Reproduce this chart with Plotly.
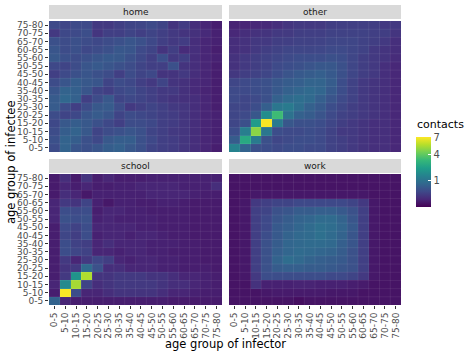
import math
import plotly.graph_objects as go
from plotly.subplots import make_subplots

age_groups = ["0-5", "5-10", "10-15", "15-20", "20-25", "25-30", "30-35", "35-40",
              "40-45", "45-50", "50-55", "55-60", "60-65", "65-70", "70-75", "75-80"]
# rows listed from the top row (infectee 75-80) down to the bottom row (infectee 0-5)
infectee_top_down = list(reversed(age_groups))
settings = ["home", "other", "school", "work"]

home = [
    [0.36, 0.31, 0.36, 0.36, 0.20, 0.20, 0.25, 0.30, 0.32, 0.36, 0.30, 0.16, 0.23, 0.12, 0.08, 0.05],
    [0.20, 0.34, 0.36, 0.41, 0.17, 0.25, 0.25, 0.30, 0.25, 0.30, 0.25, 0.20, 0.16, 0.14, 0.10, 0.06],
    [0.43, 0.38, 0.43, 0.38, 0.34, 0.38, 0.44, 0.50, 0.43, 0.34, 0.25, 0.20, 0.23, 0.12, 0.08, 0.06],
    [0.50, 0.38, 0.43, 0.34, 0.38, 0.44, 0.52, 0.50, 0.36, 0.30, 0.16, 0.24, 0.11, 0.13, 0.08, 0.05],
    [0.54, 0.43, 0.38, 0.44, 0.50, 0.56, 0.54, 0.43, 0.34, 0.25, 0.41, 0.20, 0.24, 0.12, 0.08, 0.06],
    [0.34, 0.30, 0.38, 0.50, 0.56, 0.50, 0.43, 0.38, 0.30, 0.25, 0.25, 0.44, 0.16, 0.12, 0.08, 0.05],
    [0.25, 0.36, 0.44, 0.50, 0.43, 0.38, 0.25, 0.38, 0.30, 0.34, 0.16, 0.16, 0.20, 0.12, 0.08, 0.05],
    [0.38, 0.50, 0.62, 0.54, 0.50, 0.30, 0.38, 0.34, 0.25, 0.20, 0.30, 0.16, 0.14, 0.10, 0.08, 0.05],
    [0.50, 0.70, 0.66, 0.50, 0.30, 0.25, 0.34, 0.38, 0.30, 0.25, 0.20, 0.20, 0.14, 0.10, 0.07, 0.05],
    [0.58, 0.78, 0.67, 0.25, 0.38, 0.54, 0.30, 0.34, 0.30, 0.25, 0.20, 0.16, 0.14, 0.12, 0.08, 0.05],
    [0.58, 0.38, 0.25, 0.38, 0.54, 0.58, 0.38, 0.20, 0.25, 0.30, 0.25, 0.20, 0.18, 0.12, 0.08, 0.05],
    [0.38, 0.30, 0.34, 0.50, 0.58, 0.50, 0.30, 0.38, 0.34, 0.30, 0.25, 0.23, 0.18, 0.12, 0.08, 0.06],
    [0.34, 0.54, 0.62, 0.54, 0.43, 0.34, 0.25, 0.38, 0.38, 0.34, 0.25, 0.23, 0.18, 0.12, 0.08, 0.06],
    [0.38, 0.62, 0.70, 0.54, 0.30, 0.38, 0.44, 0.50, 0.43, 0.30, 0.25, 0.20, 0.18, 0.12, 0.08, 0.06],
    [0.43, 0.70, 0.62, 0.43, 0.34, 0.54, 0.62, 0.62, 0.43, 0.34, 0.25, 0.23, 0.18, 0.12, 0.08, 0.06],
    [0.38, 0.70, 0.50, 0.43, 0.50, 0.62, 0.67, 0.54, 0.43, 0.30, 0.25, 0.23, 0.18, 0.12, 0.08, 0.05],
]

other = [
    [0.07, 0.08, 0.09, 0.10, 0.13, 0.17, 0.20, 0.20, 0.21, 0.24, 0.25, 0.25, 0.25, 0.24, 0.20, 0.20],
    [0.09, 0.12, 0.15, 0.16, 0.20, 0.21, 0.24, 0.25, 0.25, 0.28, 0.28, 0.28, 0.28, 0.25, 0.24, 0.17],
    [0.12, 0.15, 0.19, 0.20, 0.24, 0.25, 0.28, 0.28, 0.29, 0.32, 0.32, 0.32, 0.28, 0.24, 0.20, 0.13],
    [0.12, 0.15, 0.20, 0.24, 0.28, 0.32, 0.32, 0.32, 0.33, 0.36, 0.36, 0.32, 0.28, 0.20, 0.16, 0.12],
    [0.15, 0.20, 0.24, 0.28, 0.32, 0.36, 0.40, 0.40, 0.40, 0.44, 0.40, 0.32, 0.24, 0.20, 0.16, 0.11],
    [0.15, 0.20, 0.24, 0.28, 0.36, 0.40, 0.44, 0.48, 0.52, 0.52, 0.44, 0.32, 0.24, 0.20, 0.13, 0.09],
    [0.19, 0.24, 0.28, 0.32, 0.40, 0.48, 0.56, 0.60, 0.64, 0.56, 0.44, 0.32, 0.24, 0.20, 0.13, 0.09],
    [0.32, 0.36, 0.40, 0.44, 0.52, 0.60, 0.64, 0.72, 0.72, 0.60, 0.40, 0.28, 0.20, 0.16, 0.13, 0.09],
    [0.36, 0.36, 0.40, 0.44, 0.56, 0.68, 0.76, 0.84, 0.76, 0.56, 0.40, 0.28, 0.20, 0.16, 0.13, 0.09],
    [0.36, 0.32, 0.36, 0.44, 0.68, 0.84, 0.92, 0.84, 0.64, 0.48, 0.36, 0.28, 0.20, 0.16, 0.13, 0.09],
    [0.32, 0.32, 0.40, 0.64, 1.10, 1.20, 0.92, 0.68, 0.56, 0.40, 0.32, 0.24, 0.20, 0.16, 0.13, 0.09],
    [0.32, 0.36, 0.52, 1.70, 3.30, 1.00, 0.68, 0.60, 0.48, 0.36, 0.28, 0.24, 0.20, 0.16, 0.13, 0.09],
    [0.32, 0.44, 2.10, 7.00, 1.20, 0.52, 0.44, 0.44, 0.40, 0.32, 0.24, 0.20, 0.16, 0.13, 0.13, 0.09],
    [0.40, 1.30, 4.80, 1.10, 0.40, 0.36, 0.36, 0.40, 0.36, 0.28, 0.20, 0.20, 0.16, 0.13, 0.13, 0.09],
    [0.60, 2.60, 1.20, 0.44, 0.32, 0.36, 0.40, 0.40, 0.36, 0.28, 0.24, 0.20, 0.16, 0.13, 0.13, 0.09],
    [1.40, 0.70, 0.44, 0.40, 0.36, 0.40, 0.40, 0.36, 0.36, 0.28, 0.24, 0.20, 0.16, 0.13, 0.13, 0.09],
]

school = [
    [0.04, 0.12, 0.04, 0.16, 0.05, 0.08, 0.05, 0.05, 0.05, 0.06, 0.06, 0.06, 0.06, 0.06, 0.06, 0.06],
    [0.04, 0.08, 0.05, 0.08, 0.05, 0.05, 0.06, 0.06, 0.08, 0.08, 0.08, 0.08, 0.06, 0.06, 0.06, 0.12],
    [0.04, 0.12, 0.08, 0.03, 0.06, 0.06, 0.06, 0.06, 0.06, 0.08, 0.08, 0.08, 0.08, 0.06, 0.05, 0.05],
    [0.08, 0.20, 0.16, 0.30, 0.06, 0.03, 0.06, 0.06, 0.05, 0.05, 0.06, 0.06, 0.05, 0.04, 0.04, 0.04],
    [0.08, 0.40, 0.36, 0.40, 0.05, 0.08, 0.08, 0.06, 0.06, 0.05, 0.05, 0.05, 0.05, 0.04, 0.04, 0.04],
    [0.08, 0.45, 0.40, 0.45, 0.06, 0.08, 0.06, 0.06, 0.06, 0.06, 0.05, 0.05, 0.05, 0.04, 0.04, 0.04],
    [0.05, 0.36, 0.28, 0.40, 0.08, 0.08, 0.08, 0.08, 0.06, 0.06, 0.05, 0.05, 0.05, 0.04, 0.04, 0.04],
    [0.05, 0.32, 0.24, 0.40, 0.06, 0.08, 0.08, 0.06, 0.08, 0.08, 0.06, 0.05, 0.05, 0.04, 0.04, 0.04],
    [0.05, 0.40, 0.28, 0.24, 0.08, 0.12, 0.08, 0.08, 0.08, 0.06, 0.06, 0.06, 0.05, 0.05, 0.04, 0.04],
    [0.05, 0.40, 0.32, 0.28, 0.08, 0.08, 0.06, 0.08, 0.08, 0.06, 0.06, 0.05, 0.05, 0.05, 0.04, 0.04],
    [0.05, 0.20, 0.08, 0.20, 0.32, 0.24, 0.08, 0.06, 0.08, 0.08, 0.06, 0.06, 0.05, 0.05, 0.04, 0.04],
    [0.05, 0.16, 0.20, 0.85, 0.45, 0.12, 0.12, 0.08, 0.08, 0.08, 0.06, 0.06, 0.05, 0.05, 0.05, 0.04],
    [0.05, 0.20, 1.90, 5.50, 0.16, 0.16, 0.20, 0.20, 0.20, 0.16, 0.16, 0.12, 0.08, 0.08, 0.06, 0.05],
    [0.08, 1.60, 5.30, 0.30, 0.12, 0.16, 0.20, 0.20, 0.20, 0.20, 0.16, 0.12, 0.12, 0.08, 0.06, 0.05],
    [0.05, 7.00, 0.40, 0.08, 0.08, 0.12, 0.16, 0.16, 0.16, 0.16, 0.12, 0.08, 0.08, 0.06, 0.05, 0.05],
    [0.70, 0.08, 0.05, 0.05, 0.05, 0.05, 0.05, 0.05, 0.05, 0.05, 0.05, 0.04, 0.04, 0.04, 0.04, 0.04],
]

work = [
    [0.02, 0.02, 0.02, 0.02, 0.02, 0.02, 0.02, 0.02, 0.02, 0.02, 0.02, 0.02, 0.02, 0.02, 0.02, 0.02],
    [0.02, 0.02, 0.02, 0.02, 0.02, 0.02, 0.02, 0.02, 0.02, 0.02, 0.02, 0.02, 0.02, 0.02, 0.02, 0.02],
    [0.02, 0.02, 0.03, 0.03, 0.03, 0.03, 0.03, 0.03, 0.03, 0.03, 0.03, 0.03, 0.03, 0.02, 0.02, 0.02],
    [0.02, 0.03, 0.20, 0.25, 0.30, 0.30, 0.35, 0.35, 0.35, 0.35, 0.35, 0.30, 0.20, 0.03, 0.02, 0.02],
    [0.02, 0.03, 0.25, 0.30, 0.45, 0.50, 0.60, 0.60, 0.65, 0.65, 0.55, 0.45, 0.25, 0.03, 0.02, 0.02],
    [0.02, 0.03, 0.25, 0.35, 0.50, 0.60, 0.70, 0.75, 0.85, 0.85, 0.70, 0.50, 0.25, 0.03, 0.02, 0.02],
    [0.02, 0.03, 0.25, 0.35, 0.55, 0.65, 0.75, 0.85, 0.95, 0.90, 0.75, 0.55, 0.25, 0.03, 0.02, 0.02],
    [0.02, 0.03, 0.25, 0.40, 0.55, 0.70, 0.80, 0.85, 0.95, 0.85, 0.70, 0.50, 0.25, 0.03, 0.02, 0.02],
    [0.02, 0.03, 0.25, 0.45, 0.60, 0.75, 0.80, 0.85, 0.85, 0.80, 0.65, 0.50, 0.25, 0.03, 0.02, 0.02],
    [0.02, 0.03, 0.25, 0.45, 0.65, 0.75, 0.85, 0.80, 0.75, 0.70, 0.60, 0.45, 0.25, 0.03, 0.02, 0.02],
    [0.02, 0.03, 0.25, 0.45, 0.70, 0.90, 0.80, 0.70, 0.65, 0.60, 0.55, 0.45, 0.25, 0.03, 0.02, 0.02],
    [0.02, 0.03, 0.25, 0.45, 0.60, 0.65, 0.65, 0.60, 0.60, 0.55, 0.50, 0.45, 0.25, 0.03, 0.02, 0.02],
    [0.02, 0.03, 0.20, 0.40, 0.40, 0.40, 0.40, 0.40, 0.40, 0.35, 0.35, 0.30, 0.20, 0.03, 0.02, 0.02],
    [0.02, 0.02, 0.15, 0.06, 0.06, 0.06, 0.07, 0.07, 0.06, 0.06, 0.06, 0.05, 0.04, 0.02, 0.02, 0.02],
    [0.02, 0.02, 0.02, 0.03, 0.04, 0.04, 0.04, 0.04, 0.04, 0.03, 0.03, 0.03, 0.02, 0.02, 0.02, 0.02],
    [0.02, 0.02, 0.02, 0.02, 0.02, 0.02, 0.01, 0.02, 0.02, 0.02, 0.02, 0.02, 0.02, 0.02, 0.02, 0.02],
]

legend_ticks = [1, 4, 7]
matrices = [home, other, school, work]

W, H = 474, 355
FONT = "DejaVu Sans"

def px_x(p):
    return p / W

def px_y(p):
    return 1 - p / H

fig = make_subplots(rows=2, cols=2)

for i, (name, mat) in enumerate(zip(settings, matrices)):
    r, c = i // 2 + 1, i % 2 + 1
    z = [[math.sqrt(v) for v in row] for row in mat]
    fig.add_trace(go.Heatmap(
        x=age_groups, y=infectee_top_down, z=z,
        coloraxis="coloraxis",
        customdata=mat,
        hovertemplate="infector %{x}<br>infectee %{y}<br>contacts %{customdata}<extra>" + name + "</extra>",
    ), row=r, col=c)

# panel domains (pixels)
xdom = [(49, 222), (229, 401)]
ydom = [(21, 152), (174, 305)]
strip = [(5, 19), (159, 173)]

for i in range(4):
    r, c = i // 2, i % 2
    sfx = "" if i == 0 else str(i + 1)
    xa = dict(domain=[px_x(xdom[c][0]), px_x(xdom[c][1])],
              type="category", categoryorder="array", categoryarray=age_groups,
              tickmode="array", tickvals=age_groups, ticktext=age_groups,
              range=[-0.5, len(age_groups) - 0.5], showgrid=False, zeroline=False,
              showline=False, tickangle=-90, automargin=False,
              tickfont=dict(family=FONT, size=9, color="#4d4d4d"),
              ticks="outside" if r == 1 else "", ticklen=3, tickcolor="#333333",
              showticklabels=(r == 1))
    ya = dict(domain=[px_y(ydom[r][1]), px_y(ydom[r][0])],
              type="category", categoryorder="array", categoryarray=age_groups,
              tickmode="array", tickvals=age_groups, ticktext=age_groups,
              range=[-0.5, len(age_groups) - 0.5], showgrid=False, zeroline=False,
              showline=False, automargin=False,
              tickfont=dict(family=FONT, size=9, color="#4d4d4d"),
              ticks="outside" if c == 0 else "", ticklen=3, tickcolor="#333333",
              showticklabels=(c == 0))
    fig.layout["xaxis" + sfx].update(xa)
    fig.layout["yaxis" + sfx].update(ya)

    # strip
    fig.add_shape(type="rect", xref="paper", yref="paper",
                  x0=px_x(xdom[c][0]), x1=px_x(xdom[c][1]),
                  y0=px_y(strip[r][1]), y1=px_y(strip[r][0]),
                  fillcolor="#d9d9d9", line=dict(width=0), layer="below")
    fig.add_annotation(text=settings[i], xref="paper", yref="paper",
                       x=px_x((xdom[c][0] + xdom[c][1]) / 2),
                       y=px_y((strip[r][0] + strip[r][1]) / 2),
                       showarrow=False, xanchor="center", yanchor="middle",
                       font=dict(family=FONT, size=9, color="#1a1a1a"))
    # faint cell boundaries
    xr = "x" + sfx
    yr = "y" + sfx
    for k in range(1, len(age_groups)):
        fig.add_shape(type="line", xref=xr, yref=yr + " domain",
                      x0=k - 0.5, x1=k - 0.5, y0=0, y1=1,
                      line=dict(color="rgba(255,255,255,0.13)", width=0.6), layer="above")
        fig.add_shape(type="line", xref=xr + " domain", yref=yr,
                      x0=0, x1=1, y0=k - 0.5, y1=k - 0.5,
                      line=dict(color="rgba(255,255,255,0.13)", width=0.6), layer="above")

fig.add_annotation(text="age group of infector", xref="paper", yref="paper",
                   x=px_x(225), y=px_y(344), showarrow=False,
                   xanchor="center", yanchor="middle",
                   font=dict(family=FONT, size=11.5, color="black"))
fig.add_annotation(text="age group of infectee", xref="paper", yref="paper",
                   x=px_x(11), y=px_y(163), showarrow=False, textangle=-90,
                   xanchor="center", yanchor="middle",
                   font=dict(family=FONT, size=11.5, color="black"))
fig.add_annotation(text="contacts", xref="paper", yref="paper",
                   x=px_x(415), y=px_y(125), showarrow=False,
                   xanchor="left", yanchor="middle",
                   font=dict(family=FONT, size=11, color="black"))

fig.update_layout(
    width=W, height=H,
    margin=dict(l=0, r=0, t=0, b=0, autoexpand=False),
    paper_bgcolor="white", plot_bgcolor="white",
    showlegend=False,
    coloraxis=dict(
        colorscale="Viridis", cmin=0, cmax=math.sqrt(7.1),
        colorbar=dict(
            x=px_x(416), xanchor="left", xpad=0,
            y=px_y(137), yanchor="top", ypad=0,
            len=(207 - 137) / H, lenmode="fraction",
            thickness=15, outlinewidth=0,
            tickvals=[math.sqrt(v) for v in legend_ticks],
            ticktext=[str(v) for v in legend_ticks],
            ticks="inside", ticklen=3, tickcolor="white",
            tickfont=dict(family=FONT, size=10, color="#4d4d4d"),
        ),
    ),
)

fig.write_html("out.html", config={"displayModeBar": False},
               post_script="document.body.style.margin='0px';document.body.style.overflow='hidden';")
